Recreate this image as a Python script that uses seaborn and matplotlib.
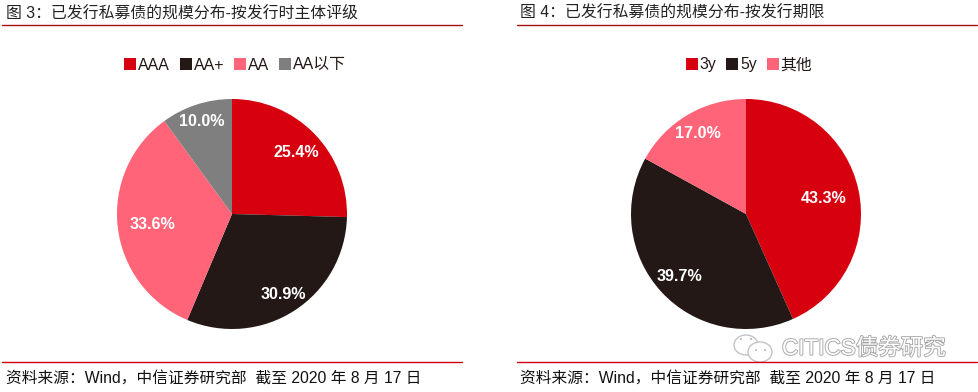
import matplotlib
matplotlib.use("Agg")
import matplotlib.pyplot as plt
import matplotlib.patheffects as pe
from matplotlib.lines import Line2D
from matplotlib.patches import Ellipse
import seaborn as sns

W, H = 979, 392

left_title = "图 3：已发行私募债的规模分布-按发行时主体评级"
right_title = "图 4：已发行私募债的规模分布-按发行期限"
source_text = "资料来源：Wind，中信证券研究部  截至 2020 年 8 月 17 日"
watermark_text = "CITICS债券研究"

left_categories = ["AAA", "AA+", "AA", "AA以下"]
left_values = [25.4, 30.9, 33.6, 10.0]
right_categories = ["3y", "5y", "其他"]
right_values = [43.3, 39.7, 17.0]

left_label_radius = [0.78, 0.82, 0.70, 0.85]
right_label_radius = [0.69, 0.79, 0.82]

sns.set_theme(style="white")
plt.rcParams["font.family"] = ["Liberation Sans", "Noto Sans CJK SC", "DejaVu Sans"]
palette = sns.color_palette(["#D7000F", "#231815", "#FF6478", "#7F7F7F"])

fig = plt.figure(figsize=(W / 100, H / 100), dpi=100, facecolor="white")


def fx(px):
    return px / W


def fy(py):
    return 1 - py / H


def draw_pie(cx, cy, r, values, categories, radii, legend_cx):
    ax = fig.add_axes([fx(cx - r), fy(cy + r), 2 * r / W, 2 * r / H])
    wedges, _, autotexts = ax.pie(
        values, colors=palette[: len(values)], startangle=90, counterclock=False,
        autopct="%.1f%%", pctdistance=0.8, radius=1.0,
        wedgeprops=dict(linewidth=0, edgecolor="none"),
        textprops=dict(color="white", fontweight="bold", fontsize=11.6,
                       family="Liberation Sans"),
    )
    ax.set_xlim(-1, 1)
    ax.set_ylim(-1, 1)
    for w in wedges:
        w.set_clip_on(False)
    for t, d in zip(autotexts, radii):
        x, y = t.get_position()
        t.set_position((x * d / 0.8, y * d / 0.8 - 0.008))
    handles = [Line2D([], [], marker="s", ls="", ms=8.2, color=c, mew=0)
               for c in palette[: len(values)]]
    fig.legend(handles, categories, loc="center", bbox_to_anchor=(fx(legend_cx), fy(65)),
               ncol=len(values), frameon=False, fontsize=11.4, handletextpad=0.0,
               columnspacing=0.5, handlelength=1.0, borderpad=0, labelcolor="#231815")


def hline(x0, x1, y, color, lw=1.0):
    fig.add_artist(Line2D([fx(x0), fx(x1)], [fy(y), fy(y)], color=color, lw=lw))


draw_pie(232, 214, 115, left_values, left_categories, left_label_radius, 234)
draw_pie(746, 214, 115, right_values, right_categories, right_label_radius, 748)

for x0, x1, tx, title in [(2, 462, 6, left_title), (517, 977, 520, right_title)]:
    hline(x0, x1, 25, "#A81010")
    hline(x0, x1, 362, "#D00010")
    fig.text(fx(tx), fy(13), title, fontsize=11.4, va="center", color="#222222")
    fig.text(fx(tx), fy(378), source_text, fontsize=11.3, va="center", color="#111111")

# faint WeChat-style watermark
halo = [pe.withStroke(linewidth=1.3, foreground="#a6a6a6")]
fig.text(fx(782), fy(349), watermark_text, fontsize=16.2, va="center", color="white",
         path_effects=halo, zorder=6)
fig.add_artist(Ellipse((fx(746), fy(345)), 24 / W, 20 / H, fill=False, ec="#c4c4c4", lw=1.0))
fig.add_artist(Ellipse((fx(760), fy(352)), 24 / W, 20 / H, fc="white", ec="#c4c4c4", lw=1.0))
for ex, ey in [(741, 339), (751, 339), (756, 350), (765, 350)]:
    fig.add_artist(Ellipse((fx(ex), fy(ey)), 2 / W, 2 / H, fc="#b5b5b5", ec="none"))

fig.savefig("out.png", dpi=100, facecolor="white")
